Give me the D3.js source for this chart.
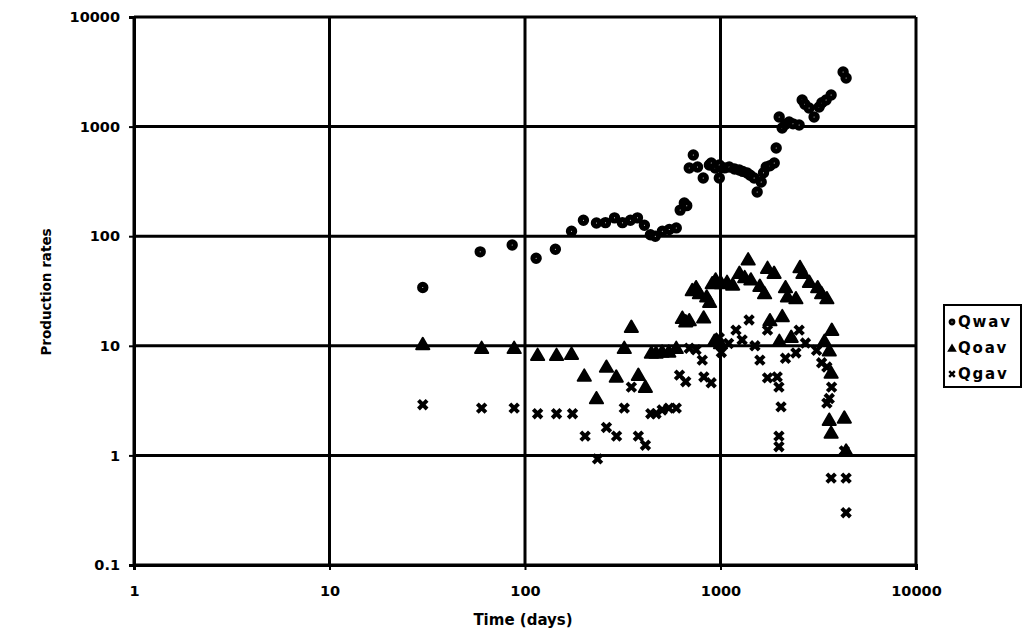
<!DOCTYPE html>
<html>
<head>
<meta charset="utf-8">
<script src="https://cdn.jsdelivr.net/npm/d3@7"></script>
<style>
  body { margin: 0; background: #fff; }
  svg text { font-family: "DejaVu Sans", "Liberation Sans", Arial, sans-serif; font-weight: bold; fill: #000; }
</style>
</head>
<body>
<svg id="chart" width="1034" height="629"></svg>
<script>
// tick values of both log axes
const xTicks = [1, 10, 100, 1000, 10000];
const yTicks = [0.1, 1, 10, 100, 1000, 10000];

// [time in days, rate]
const qwav = [
  [30, 34], [59, 72], [86, 83], [114, 63], [143, 76], [173, 111], [199, 140], [232, 132],
  [258, 133], [287, 147], [315, 133], [346, 140], [376, 147], [408, 126], [438, 103], [464, 100],
  [504, 111], [547, 115], [594, 119], [622, 173], [653, 201], [672, 190],
  [692, 419], [726, 551], [763, 428], [816, 340], [877, 446], [897, 465], [940, 419], [986, 340],
  [986, 446], [1050, 420], [1108, 428], [1180, 410], [1247, 402], [1300, 390], [1369, 377],
  [1420, 360], [1486, 340], [1540, 253], [1615, 312], [1660, 380], [1713, 428], [1790, 440],
  [1883, 465], [1927, 638], [1996, 1224], [2067, 971], [2150, 1050], [2244, 1101], [2350, 1060],
  [2525, 1035], [2617, 1749], [2700, 1600], [2839, 1479], [3011, 1224], [3195, 1510], [3300, 1650],
  [3468, 1749], [3680, 1942], [4238, 3149], [4390, 2776]
];
const qoav = [
  [30, 10.3], [60, 9.5], [88, 9.5], [116, 8.2], [145, 8.2], [173, 8.4], [201, 5.3], [232, 3.3],
  [261, 6.4], [293, 5.2], [322, 9.5], [350, 14.8], [380, 5.4], [413, 4.2], [443, 8.6], [468, 8.6],
  [503, 8.8], [544, 8.8], [594, 9.5], [638, 17.9], [664, 16.6], [692, 17], [717, 32], [750, 34],
  [780, 30], [820, 18], [850, 28], [880, 25], [907, 37], [930, 11], [944, 40], [1000, 10.5],
  [1010, 37], [1080, 38], [1154, 36], [1250, 46], [1330, 42], [1385, 61], [1430, 40], [1590, 35],
  [1680, 30], [1740, 51], [1790, 17], [1880, 46], [2000, 11], [2070, 18.5], [2150, 34], [2200, 28],
  [2300, 12], [2430, 27], [2550, 52], [2640, 46], [2850, 38], [3140, 34], [3290, 30], [3400, 11],
  [3500, 27], [3600, 9], [3710, 13.9], [3680, 5.65], [3600, 2.1], [3680, 1.6], [4300, 2.2], [4390, 1.1]
];
const qgav = [
  [30, 2.9], [60, 2.7], [88, 2.7], [116, 2.4], [145, 2.4], [175, 2.4], [203, 1.5], [235, 0.93],
  [261, 1.8], [294, 1.5], [322, 2.7], [350, 4.2], [380, 1.5], [413, 1.24], [440, 2.4], [468, 2.4],
  [503, 2.6], [544, 2.7], [594, 2.7], [617, 5.4], [664, 4.7], [692, 9.5], [750, 9.2], [807, 7.4],
  [822, 5.2], [896, 4.6], [986, 11.8], [1010, 8.7], [1100, 10.5], [1200, 13.9], [1290, 11.3],
  [1400, 17.2], [1500, 10], [1590, 7.4], [1740, 13.9], [1740, 5.1], [1950, 5.2], [1990, 4.2],
  [2040, 2.77], [1990, 1.5], [1990, 1.2], [2150, 7.7], [2430, 8.6], [2525, 13.9], [2720, 10.6],
  [3100, 9.1], [3290, 7], [3500, 6.4], [3600, 3.3], [3500, 3.0], [3700, 4.2], [3680, 0.62],
  [4390, 0.62], [4390, 0.30], [4300, 1.1]
];
const seriesNames = ['Qwav', 'Qoav', 'Qgav'];

const margin = { left: 134, top: 17 };
const width = 782, height = 548;

const svg = d3.select('#chart');
const g = svg.append('g').attr('transform', `translate(${margin.left},${margin.top})`);

const x = d3.scaleLog().domain([1, 10000]).range([0, width]);
const y = d3.scaleLog().domain([0.1, 10000]).range([height, 0]);

// grid lines
g.selectAll('.hgrid').data(yTicks).enter().append('line')
  .attr('x1', 0).attr('x2', width)
  .attr('y1', d => y(d)).attr('y2', d => y(d))
  .attr('stroke', '#000').attr('stroke-width', 3);
g.selectAll('.vgrid').data(xTicks).enter().append('line')
  .attr('x1', d => x(d)).attr('x2', d => x(d))
  .attr('y1', 0).attr('y2', height)
  .attr('stroke', '#000').attr('stroke-width', 3);

// axes
const yAxis = g.append('g')
  .call(d3.axisLeft(y).tickValues(yTicks).tickFormat(d => String(d)).tickSize(5).tickPadding(9));
const xAxis = g.append('g').attr('transform', `translate(0,${height})`)
  .call(d3.axisBottom(x).tickValues(xTicks).tickFormat(d => String(d)).tickSize(5).tickPadding(16));
[yAxis, xAxis].forEach(a => {
  a.select('.domain').attr('stroke-width', 3);
  a.selectAll('.tick line').attr('stroke-width', 2);
  a.selectAll('text').style('font-size', '14.5px').style('font-family', null);
});

// axis titles
svg.append('text')
  .attr('x', margin.left + width / 2 - 2).attr('y', 625)
  .attr('text-anchor', 'middle').style('font-size', '15px')
  .text('Time (days)');
svg.append('text')
  .attr('transform', 'translate(51,292) rotate(-90)')
  .attr('text-anchor', 'middle').style('font-size', '13.5px')
  .text('Production rates');

// markers
const triangle = d3.symbol().type(d3.symbolTriangle);
const crossPath = r => `M${-r},${-r}L${r},${r}M${-r},${r}L${r},${-r}`;

function drawCircles(sel, r, sw) {
  sel.attr('r', r).attr('fill', '#fff').attr('stroke', '#000').attr('stroke-width', sw);
}

g.selectAll('.qw').data(qwav).enter().append('circle')
  .attr('cx', d => x(d[0])).attr('cy', d => y(d[1]))
  .call(drawCircles, 3.1, 5.2);

g.selectAll('.qo').data(qoav).enter().append('path')
  .attr('transform', d => `translate(${x(d[0])},${y(d[1]) + 1})`)
  .attr('d', triangle.size(75)())
  .attr('fill', '#000').attr('stroke', '#000').attr('stroke-width', 2)
  .attr('stroke-linejoin', 'round');

g.selectAll('.qg').data(qgav).enter().append('path')
  .attr('transform', d => `translate(${x(d[0])},${y(d[1])})`)
  .attr('d', crossPath(4.3))
  .attr('stroke', '#000').attr('stroke-width', 4).attr('fill', 'none');

// legend
const legend = svg.append('g').attr('transform', 'translate(944,305)');
legend.append('rect')
  .attr('width', 77).attr('height', 82)
  .attr('fill', '#fff').attr('stroke', '#000').attr('stroke-width', 2);
const items = legend.selectAll('.item').data(seriesNames).enter().append('g')
  .attr('transform', (d, i) => `translate(0,${17 + i * 26})`);
items.append('text')
  .attr('x', 14).attr('y', 5).style('font-size', '15px').style('letter-spacing', '1.8px')
  .text(d => d);
items.filter((d, i) => i === 0).append('circle')
  .attr('cx', 8).attr('cy', 0).call(drawCircles, 2, 2.8);
items.filter((d, i) => i === 1).append('path')
  .attr('transform', 'translate(8,1)')
  .attr('d', triangle.size(40)()).attr('fill', '#000');
items.filter((d, i) => i === 2).append('path')
  .attr('transform', 'translate(8,0)')
  .attr('d', crossPath(2.8)).attr('stroke', '#000').attr('stroke-width', 2.4);
</script>
</body>
</html>
